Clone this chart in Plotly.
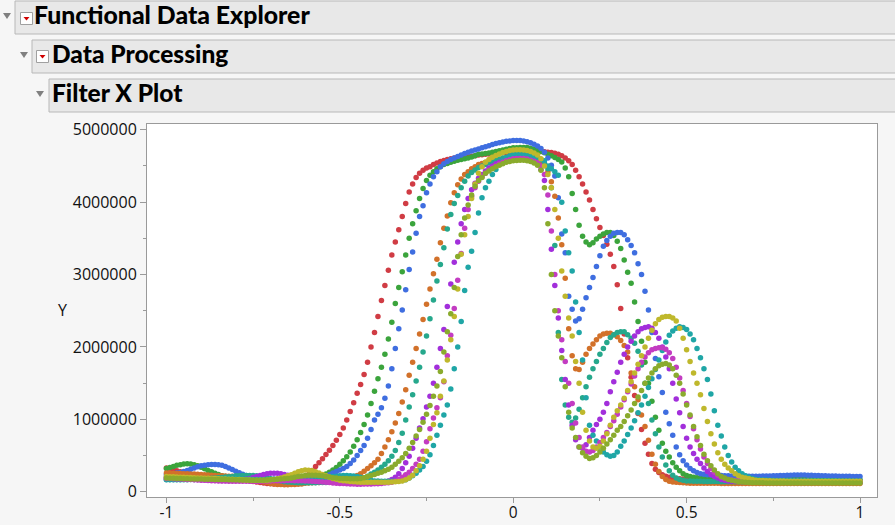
import numpy as np
import plotly.graph_objects as go

# ---------------- data (Y values in thousands, sampled every 0.01 on X from -1 to 1) ----------------
X = [round(v, 2) for v in np.linspace(-1.0, 1.0, 201)]
UNIT = 1000

RED = [
    330, 320, 305, 290, 275, 260, 250, 240, 230, 222,
    215, 208, 200, 195, 190, 185, 182, 180, 178, 176,
    174, 170, 165, 158, 150, 142, 135, 128, 122, 116,
    112, 108, 106, 105, 106, 110, 115, 125, 140, 165,
    200, 240, 295, 350, 400, 455, 515, 575, 640, 710,
    790, 880, 990, 1110, 1230, 1360, 1480, 1620, 1790, 2000,
    2200, 2420, 2640, 2850, 3060, 3270, 3450, 3620, 3800, 3980,
    4140, 4250, 4340, 4400, 4440, 4470, 4490, 4520, 4540, 4560,
    4575, 4590, 4600, 4610, 4615, 4620, 4625, 4630, 4635, 4640,
    4650, 4655, 4660, 4665, 4670, 4675, 4680, 4683, 4686, 4688,
    4690, 4692, 4694, 4696, 4698, 4700, 4700, 4700, 4698, 4695,
    4690, 4685, 4675, 4660, 4640, 4610, 4570, 4520, 4440, 4350,
    4250, 4140, 4030, 3900, 3770, 3650, 3540, 3420, 3280, 3110,
    2860, 2530, 2180, 1850, 1580, 1330, 1080, 860, 670, 520,
    390, 310, 265, 235, 215, 200, 190, 185, 180, 175,
    170, 168, 165, 163, 160, 158, 157, 156, 155, 155,
    155, 154, 154, 153, 153, 152, 152, 152, 151, 151,
    150, 150, 150, 151, 152, 153, 153, 152, 151, 150,
    150, 150, 149, 149, 148, 148, 148, 147, 147, 147,
    147, 146, 146, 146, 146, 145, 145, 145, 145, 145,
    145]

GREEN = [
    320, 335, 350, 365, 375, 385, 388, 385, 375, 360,
    340, 318, 295, 275, 255, 238, 222, 210, 200, 192,
    185, 180, 176, 172, 168, 165, 162, 160, 158, 156,
    155, 154, 153, 152, 151, 150, 150, 150, 150, 150,
    150, 160, 170, 185, 200, 220, 245, 270, 300, 335,
    380, 430, 485, 550, 630, 720, 820, 930, 1060, 1220,
    1390, 1560, 1720, 1900, 2110, 2340, 2600, 2820, 3040, 3270,
    3500, 3700, 3880, 4050, 4190, 4300, 4370, 4420, 4460, 4490,
    4520, 4535, 4550, 4565, 4580, 4590, 4600, 4610, 4625, 4640,
    4660, 4665, 4670, 4680, 4690, 4700, 4710, 4720, 4730, 4740,
    4750, 4752, 4754, 4755, 4754, 4745, 4732, 4718, 4700, 4682,
    4660, 4640, 4615, 4590, 4555, 4470, 4350, 4120, 3900, 3680,
    3530, 3450, 3410, 3440, 3490, 3530, 3560, 3580, 3580, 3540,
    3460, 3360, 3200, 3030, 2880, 2620, 2350, 2080, 1790, 1500,
    1250, 1030, 850, 670, 560, 480, 400, 340, 290, 250,
    225, 212, 200, 195, 190, 185, 182, 180, 178, 178,
    178, 177, 176, 175, 174, 173, 172, 172, 172, 172,
    172, 172, 173, 174, 175, 176, 176, 176, 175, 175,
    175, 175, 175, 174, 174, 173, 172, 172, 171, 171,
    170, 170, 169, 169, 168, 168, 167, 167, 166, 166,
    165]

BLUE = [
    240, 245, 250, 258, 268, 280, 295, 312, 330, 345,
    358, 368, 375, 378, 378, 374, 365, 350, 330, 308,
    285, 262, 242, 226, 212, 202, 194, 188, 184, 180,
    178, 177, 176, 175, 174, 173, 172, 172, 171, 171,
    170, 170, 172, 175, 185, 195, 210, 235, 258, 280,
    300, 320, 350, 390, 440, 500, 570, 640, 740, 860,
    990, 1070, 1160, 1290, 1460, 1700, 1980, 2250, 2510, 2790,
    3070, 3310, 3570, 3800, 3950, 4130, 4250, 4350, 4420, 4490,
    4530, 4560, 4590, 4610, 4630, 4650, 4670, 4690, 4705, 4720,
    4735, 4750, 4765, 4780, 4795, 4810, 4820, 4830, 4840, 4845,
    4850, 4852, 4850, 4845, 4835, 4820, 4800, 4775, 4740, 4690,
    4610, 4510, 4360, 4060, 3560, 3300, 2700, 2520, 2360, 2390,
    2520, 2680, 2820, 2960, 3110, 3260, 3390, 3470, 3530, 3570,
    3580, 3580, 3550, 3480, 3400, 3300, 3150, 3000, 2770, 2510,
    2200, 1840, 1590, 1370, 1100, 940, 780, 620, 510, 430,
    370, 320, 290, 265, 250, 242, 236, 232, 229, 227,
    225, 222, 220, 218, 216, 215, 214, 214, 214, 215,
    215, 216, 217, 218, 219, 220, 222, 224, 226, 228,
    230, 232, 232, 232, 231, 230, 228, 226, 224, 222,
    220, 219, 218, 217, 216, 215, 214, 213, 212, 211,
    210]

ORANGE = [
    260, 258, 256, 254, 252, 250, 248, 246, 244, 242,
    238, 235, 232, 228, 225, 222, 220, 218, 216, 215,
    212, 210, 205, 198, 192, 182, 170, 155, 140, 127,
    115, 108, 102, 99, 98, 98, 99, 100, 104, 108,
    118, 121, 125, 127, 128, 130, 132, 134, 137, 140,
    150, 160, 170, 185, 205, 225, 250, 285, 320, 360,
    400, 450, 530, 620, 720, 830, 950, 1080, 1240, 1410,
    1610, 1790, 1980, 2180, 2380, 2590, 2800, 3010, 3210, 3440,
    3640, 3810, 3990, 4130, 4240, 4320, 4380, 4420, 4460, 4490,
    4520, 4535, 4550, 4560, 4570, 4580, 4590, 4600, 4605, 4610,
    4620, 4622, 4624, 4624, 4620, 4610, 4600, 4585, 4560, 4520,
    4420, 4280, 4080, 3780, 3410, 2950, 2250, 1880, 1700, 1690,
    1790, 1900, 1980, 2040, 2100, 2150, 2180, 2190, 2190, 2170,
    2140, 2090, 2020, 1930, 1640, 1450, 1270, 1060, 900, 710,
    520, 380, 280, 210, 170, 145, 135, 130, 127, 125,
    120, 119, 118, 118, 118, 118, 117, 117, 117, 117,
    116, 116, 116, 116, 116, 116, 115, 115, 115, 115,
    115, 115, 115, 115, 115, 115, 115, 115, 115, 115,
    115, 115, 115, 115, 115, 114, 114, 114, 114, 114,
    114, 114, 114, 114, 114, 113, 113, 113, 113, 113,
    113]

SEAGREEN = [
    170, 170, 170, 171, 171, 172, 173, 174, 175, 177,
    180, 182, 185, 188, 191, 195, 199, 203, 207, 211,
    220, 222, 225, 225, 225, 225, 222, 215, 205, 192,
    180, 168, 157, 148, 140, 135, 130, 127, 125, 125,
    125, 125, 126, 126, 127, 128, 129, 130, 131, 133,
    135, 137, 140, 145, 152, 160, 170, 190, 215, 245,
    270, 300, 340, 380, 430, 490, 570, 680, 810, 990,
    1170, 1340, 1530, 1720, 1930, 2150, 2390, 2650, 2910, 3140,
    3370, 3630, 3830, 3980, 4090, 4200, 4290, 4360, 4410, 4445,
    4480, 4500, 4520, 4540, 4560, 4580, 4595, 4610, 4620, 4630,
    4640, 4645, 4648, 4648, 4645, 4640, 4630, 4615, 4590, 4540,
    4460, 4200, 3400, 2200, 1550, 1200, 1030, 960, 1020, 1140,
    1300, 1450, 1580, 1700, 1800, 1900, 1980, 2060, 2130, 2170,
    2200, 2210, 2210, 2170, 2120, 2050, 1940, 1750, 1500, 1220,
    990, 800, 620, 480, 370, 290, 230, 190, 170, 160,
    150, 148, 146, 145, 144, 143, 142, 142, 141, 141,
    140, 140, 140, 140, 140, 140, 140, 140, 140, 140,
    140, 140, 141, 141, 142, 142, 142, 141, 141, 140,
    140, 140, 139, 139, 138, 138, 138, 137, 137, 137,
    136, 136, 136, 135, 135, 135, 135, 135, 135, 135,
    135]

PURPLE = [
    200, 196, 192, 188, 184, 180, 177, 174, 171, 168,
    165, 163, 161, 159, 157, 155, 154, 154, 155, 157,
    160, 164, 170, 177, 185, 197, 210, 225, 240, 250,
    255, 257, 255, 250, 240, 228, 215, 202, 190, 180,
    170, 164, 158, 153, 149, 145, 141, 137, 133, 129,
    125, 123, 121, 119, 117, 115, 114, 114, 115, 115,
    120, 125, 130, 140, 150, 170, 200, 250, 320, 400,
    490, 600, 740, 880, 1010, 1170, 1320, 1500, 1720, 1980,
    2240, 2560, 2870, 3170, 3450, 3700, 3900, 4050, 4170, 4260,
    4330, 4380, 4430, 4470, 4500, 4530, 4550, 4570, 4590, 4600,
    4610, 4615, 4620, 4615, 4605, 4590, 4570, 4540, 4450, 4300,
    3900, 3350, 2850, 2400, 1950, 1550, 1200, 920, 720, 620,
    600, 650, 750, 850, 930, 1000, 1100, 1220, 1380, 1520,
    1650, 1790, 1900, 2000, 2080, 2150, 2210, 2250, 2270, 2280,
    2260, 2200, 2120, 2000, 1860, 1700, 1500, 1280, 1090, 900,
    740, 620, 530, 450, 390, 330, 280, 240, 210, 190,
    170, 160, 150, 146, 143, 141, 140, 139, 138, 137,
    136, 135, 135, 134, 134, 133, 133, 133, 132, 132,
    132, 132, 131, 131, 131, 131, 130, 130, 130, 130,
    130, 130, 130, 130, 130, 130, 130, 130, 130, 130,
    130]

CYAN = [
    165, 165, 166, 166, 166, 167, 167, 168, 168, 169,
    170, 170, 171, 171, 172, 172, 173, 173, 174, 174,
    175, 175, 174, 173, 172, 171, 170, 168, 167, 166,
    165, 165, 165, 165, 166, 166, 167, 168, 169, 170,
    170, 172, 175, 180, 186, 195, 202, 208, 212, 215,
    220, 224, 225, 222, 218, 210, 200, 185, 172, 160,
    150, 148, 147, 146, 146, 147, 148, 150, 155, 165,
    190, 220, 255, 300, 350, 420, 510, 640, 780, 920,
    1060, 1200, 1420, 1700, 2000, 2350, 2780, 3100, 3320, 3580,
    3850, 4060, 4200, 4290, 4380, 4450, 4520, 4570, 4610, 4640,
    4660, 4670, 4670, 4660, 4650, 4640, 4630, 4610, 4590, 4570,
    4500, 4460, 4420, 4370, 4000, 3600, 3300, 3050, 2620, 2200,
    1820, 1300, 920, 780, 700, 620, 550, 510, 490, 500,
    550, 630, 700, 790, 880, 980, 1090, 1200, 1320, 1440,
    1560, 1690, 1820, 1950, 2070, 2160, 2220, 2260, 2280, 2270,
    2240, 2180, 2100, 1980, 1850, 1700, 1550, 1350, 1120, 920,
    770, 620, 500, 410, 340, 290, 250, 220, 200, 185,
    170, 167, 164, 162, 160, 158, 157, 156, 155, 155,
    155, 154, 154, 153, 153, 153, 152, 152, 152, 152,
    151, 151, 151, 151, 150, 150, 150, 150, 150, 150,
    150]

MAGENTA = [
    185, 182, 180, 177, 175, 172, 170, 168, 166, 163,
    160, 158, 156, 154, 152, 150, 149, 148, 147, 146,
    145, 145, 145, 145, 145, 145, 146, 147, 148, 149,
    150, 151, 152, 153, 154, 155, 155, 154, 153, 152,
    150, 148, 146, 143, 140, 135, 131, 127, 123, 119,
    115, 113, 111, 109, 107, 105, 105, 106, 107, 108,
    110, 112, 115, 120, 125, 132, 145, 170, 200, 235,
    270, 320, 380, 450, 560, 690, 870, 1020, 1160, 1300,
    1520, 1880, 2160, 2530, 2920, 3290, 3640, 3900, 4080, 4200,
    4290, 4350, 4400, 4440, 4470, 4500, 4530, 4550, 4570, 4585,
    4600, 4602, 4604, 4602, 4595, 4580, 4565, 4545, 4500, 4380,
    4100, 3600, 3000, 2500, 2100, 1800, 1500, 1220, 950, 750,
    620, 560, 550, 570, 620, 680, 750, 820, 900, 980,
    1070, 1170, 1270, 1380, 1490, 1600, 1700, 1790, 1860, 1920,
    1960, 1980, 1990, 1990, 1970, 1920, 1840, 1720, 1570, 1400,
    1220, 1040, 870, 720, 590, 480, 390, 320, 270, 230,
    200, 185, 170, 162, 157, 152, 150, 148, 147, 146,
    145, 145, 144, 144, 143, 143, 143, 142, 142, 142,
    142, 142, 141, 141, 141, 141, 140, 140, 140, 140,
    140, 140, 140, 140, 140, 140, 140, 140, 140, 140,
    140]

YELLOW = [
    210, 208, 206, 204, 202, 200, 198, 196, 194, 192,
    190, 188, 186, 184, 182, 180, 178, 176, 174, 172,
    170, 168, 166, 164, 162, 160, 158, 158, 159, 161,
    165, 170, 180, 192, 205, 220, 235, 255, 275, 290,
    300, 298, 290, 278, 260, 240, 220, 202, 185, 172,
    160, 154, 148, 143, 139, 135, 133, 132, 131, 130,
    130, 130, 130, 131, 132, 135, 138, 141, 150, 165,
    190, 230, 290, 360, 450, 560, 740, 930, 1090, 1320,
    1530, 1820, 2100, 2420, 2800, 3280, 3550, 3800, 4050, 4250,
    4400, 4490, 4550, 4590, 4620, 4645, 4665, 4685, 4700, 4712,
    4720, 4722, 4722, 4720, 4712, 4700, 4680, 4650, 4600, 4500,
    4380, 4200, 3900, 3500, 3050, 2700, 2400, 2150, 1800, 1500,
    1100, 850, 700, 620, 600, 630, 700, 800, 920, 1030,
    1120, 1200, 1290, 1400, 1520, 1640, 1760, 1880, 2000, 2120,
    2230, 2320, 2380, 2410, 2420, 2420, 2400, 2360, 2260, 2120,
    1960, 1800, 1640, 1500, 1340, 1150, 970, 800, 660, 540,
    450, 380, 330, 290, 250, 220, 200, 190, 180, 170,
    160, 157, 155, 153, 151, 150, 149, 148, 148, 147,
    147, 146, 146, 146, 145, 145, 145, 145, 145, 145,
    145, 145, 145, 145, 145, 145, 145, 145, 145, 145,
    145]

OLIVE = [
    190, 188, 186, 184, 182, 180, 179, 178, 177, 176,
    175, 174, 173, 172, 171, 170, 169, 168, 167, 166,
    165, 164, 163, 162, 161, 160, 160, 160, 161, 163,
    165, 168, 172, 176, 180, 185, 192, 200, 210, 218,
    225, 228, 230, 229, 225, 220, 210, 203, 195, 190,
    185, 183, 182, 181, 180, 180, 185, 195, 210, 225,
    240, 255, 270, 290, 310, 340, 380, 420, 470, 530,
    600, 680, 770, 860, 960, 1070, 1190, 1320, 1460, 1660,
    1930, 2210, 2460, 2820, 3250, 3550, 3780, 3960, 4100, 4220,
    4300, 4340, 4400, 4430, 4460, 4490, 4510, 4530, 4550, 4560,
    4570, 4575, 4580, 4578, 4570, 4560, 4540, 4510, 4440, 4200,
    3700, 3000, 2500, 2150, 1850, 1450, 1100, 880, 750, 620,
    540, 490, 460, 470, 500, 550, 600, 660, 720, 780,
    850, 900, 970, 1050, 1130, 1220, 1310, 1400, 1500, 1570,
    1640, 1700, 1740, 1760, 1770, 1750, 1700, 1610, 1500, 1350,
    1200, 1060, 900, 760, 640, 520, 430, 360, 300, 250,
    210, 190, 170, 160, 150, 140, 135, 130, 128, 126,
    125, 124, 124, 123, 123, 122, 122, 122, 121, 121,
    121, 121, 120, 120, 120, 120, 120, 120, 120, 120,
    120, 120, 120, 120, 120, 120, 120, 120, 120, 120,
    120]

SERIES = [
    ("Red", RED, "#d03c44"),
    ("Green", GREEN, "#3ba43c"),
    ("Blue", BLUE, "#3f6ee0"),
    ("Orange", ORANGE, "#d2712a"),
    ("SeaGreen", SEAGREEN, "#26a88c"),
    ("Purple", PURPLE, "#a22fdb"),
    ("Cyan", CYAN, "#1fa6a6"),
    ("Magenta", MAGENTA, "#c33cc2"),
    ("Yellow", YELLOW, "#bfb82c"),
    ("Olive", OLIVE, "#8aab2d"),
]

XTICKS = [-1, -0.5, 0, 0.5, 1]
XTICK_TEXT = ["-1", "-0.5", "0", "0.5", "1"]
YTICKS = [0, 1000000, 2000000, 3000000, 4000000, 5000000]
YTICK_TEXT = ["0", "1000000", "2000000", "3000000", "4000000", "5000000"]
HEADERS = ["Functional Data Explorer", "Data Processing", "Filter X Plot"]

# ---------------- figure ----------------
W, H = 895, 525
L, R, T, B = 147, 18, 124, 28
PW, PH = W - L - R, H - T - B
BG = "#f6f6f6"


def fx(px):
    return (px - L) / PW


def fy(py):
    return (H - B - py) / PH


fig = go.Figure()
for name, vals, col in SERIES:
    assert len(vals) == len(X)
    fig.add_trace(go.Scatter(
        x=X, y=[v * UNIT for v in vals], mode="markers", name=name,
        marker=dict(size=5.5, color=col, line=dict(width=0)),
        hoverinfo="skip", showlegend=False))

axis_col = "#9a9a9a"
tick_font = dict(family="Open Sans, Noto Sans, sans-serif", size=16, color="#111111")

fig.update_xaxes(
    range=[-1.056, 1.049], tickvals=XTICKS, ticktext=XTICK_TEXT, automargin=False,
    ticks="outside", ticklen=5, tickcolor=axis_col, tickwidth=1, ticklabelstandoff=-4,
    minor=dict(tickvals=[-0.75, -0.25, 0.25, 0.75], ticks="outside", ticklen=3,
               tickcolor=axis_col, tickwidth=1),
    showline=True, linecolor=axis_col, linewidth=1, mirror=True,
    showgrid=False, zeroline=False, tickfont=dict(tick_font, size=15.5))
fig.update_yaxes(
    range=[-72000, 5079000], tickvals=YTICKS, ticktext=YTICK_TEXT, automargin=False,
    ticks="outside", ticklen=6, tickcolor=axis_col, tickwidth=1,
    minor=dict(tickvals=[500000, 1500000, 2500000, 3500000, 4500000], ticks="outside",
               ticklen=3, tickcolor=axis_col, tickwidth=1),
    showline=True, linecolor=axis_col, linewidth=1, mirror=True,
    showgrid=False, zeroline=False, tickfont=tick_font)

shapes = []
annotations = []

# header outline boxes: (box left, box top, box bottom, text left, cap centre, size)
rows = [
    (15, 1, 34, 32, 14.8, 24.8),
    (32, 40, 73, 50, 53.5, 24.5),
    (49, 79, 112, 50, 93.0, 24.5),
]
tri_pos = [(3, 13), (20, 52), (36, 91)]
for (bx, by0, by1, tx, tyc, fs), text, (trx, try_) in zip(rows, HEADERS, tri_pos):
    shapes.append(dict(type="rect", xref="paper", yref="paper",
                       x0=fx(bx), x1=fx(W + 10), y0=fy(by1), y1=fy(by0),
                       fillcolor="#e8e8e8", line=dict(color="#b8b8b8", width=1), layer="below"))
    annotations.append(dict(text=text, xref="paper", yref="paper", x=fx(tx), y=fy(tyc),
                            xanchor="left", yanchor="middle", showarrow=False,
                            font=dict(family="Lato Black, Lato, sans-serif", size=fs,
                                      color="#000000", weight=900)))
    path = "M {:.5f} {:.5f} L {:.5f} {:.5f} L {:.5f} {:.5f} Z".format(
        fx(trx), fy(try_), fx(trx + 8), fy(try_), fx(trx + 4), fy(try_ + 6))
    shapes.append(dict(type="path", xref="paper", yref="paper", path=path,
                       fillcolor="#808080", line=dict(width=0)))

# red popup menu icons
for ix, iy in [(20.5, 12.5), (36.5, 50.5)]:
    shapes.append(dict(type="rect", xref="paper", yref="paper",
                       x0=fx(ix), x1=fx(ix + 12), y0=fy(iy + 12), y1=fy(iy),
                       fillcolor="#ffffff", line=dict(color="#a0a0a0", width=1)))
    path = "M {:.5f} {:.5f} L {:.5f} {:.5f} L {:.5f} {:.5f} Z".format(
        fx(ix + 3), fy(iy + 4.5), fx(ix + 9), fy(iy + 4.5), fx(ix + 6), fy(iy + 8))
    shapes.append(dict(type="path", xref="paper", yref="paper", path=path,
                       fillcolor="#d00000", line=dict(width=0)))

annotations.append(dict(text="Y", xref="paper", yref="paper", x=fx(62), y=fy(310),
                        xanchor="center", yanchor="middle", showarrow=False,
                        font=dict(family="Open Sans, sans-serif", size=16, color="#111111")))

fig.update_layout(
    width=W, height=H, autosize=False,
    margin=dict(l=L, r=R, t=T, b=B, pad=0),
    paper_bgcolor=BG, plot_bgcolor="#ffffff",
    shapes=shapes, annotations=annotations, showlegend=False,
    hovermode=False)

fig.write_html(
    "out.html",
    config={"displayModeBar": False},
    post_script="document.body.style.margin='0';document.body.style.background='" + BG + "';",
)
